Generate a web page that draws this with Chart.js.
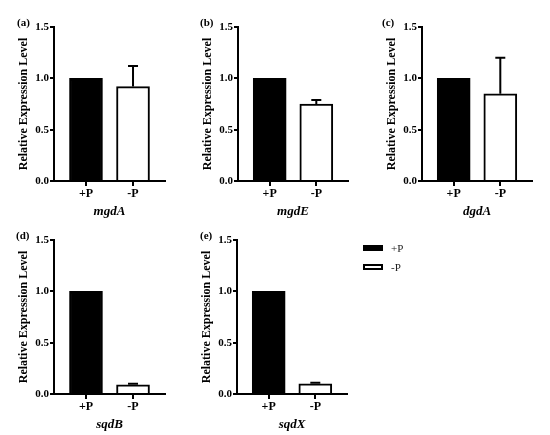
<!DOCTYPE html>
<html><head><meta charset="utf-8">
<script src="https://cdn.jsdelivr.net/npm/chart.js@4.4.1/dist/chart.umd.min.js"></script>
<style>
html,body{margin:0;padding:0;background:#fff;overflow:hidden;width:550px;height:435px;position:relative;}
canvas{position:absolute;}
.letter{position:absolute;font:bold 11px "Liberation Serif";color:#000;line-height:11px;}
.lgbox{position:absolute;width:20px;height:6px;box-sizing:border-box;border:2px solid #000;}
.lgtxt{position:absolute;font:11px "Liberation Serif";color:#222;line-height:11px;}
</style></head><body>
<script>
// ---- data ----
const conditions = ['+P', '-P'];
const genes = ['mgdA', 'mgdE', 'dgdA', 'sqdB', 'sqdX'];
const panelLetters = ['(a)', '(b)', '(c)', '(d)', '(e)'];
const plusP = [1.00, 1.00, 1.00, 1.00, 1.00];
const plusPErr = [0, 0, 0, 0, 0];
const minusP = [0.92, 0.75, 0.85, 0.09, 0.10];
const minusPErr = [0.20, 0.04, 0.35, 0.01, 0.01];
const yTicks = [0, 0.5, 1.0, 1.5];
const yTitle = 'Relative Expression Level';

// ---- layout (positions only) ----
const panelLayout = [
  {left: 0, top: 0, padRight: 15},
  {left: 184, top: 0, padRight: 16},
  {left: 368, top: 0, padRight: 16},
  {left: 0, top: 213, padRight: 15},
  {left: 183, top: 213, padRight: 16}
];
const letterPos = [[17, 17], [200, 17], [382, 17], [16, 230], [200, 230]];

const errorBars = {
  id: 'errorBars',
  afterDatasetsDraw(chart) {
    const ctx = chart.ctx, y = chart.scales.y;
    const ds = chart.data.datasets[0];
    const meta = chart.getDatasetMeta(0);
    ctx.save();
    ctx.strokeStyle = '#000';
    ctx.lineWidth = 2;
    meta.data.forEach((bar, i) => {
      const e = ds.errors[i];
      if (!e) return;
      const v = ds.data[i].y;
      const yTop = y.getPixelForValue(v + e);
      const yBase = y.getPixelForValue(v);
      ctx.beginPath();
      ctx.moveTo(bar.x, yBase);
      ctx.lineTo(bar.x, yTop);
      ctx.moveTo(bar.x - 5, yTop);
      ctx.lineTo(bar.x + 5, yTop);
      ctx.stroke();
    });
    ctx.restore();
  }
};

const serif = '"Liberation Serif", "Times New Roman", serif';

genes.forEach((gene, p) => {
  const L = panelLayout[p];
  const cv = document.createElement('canvas');
  cv.width = 180; cv.height = 225;
  cv.style.left = L.left + 'px'; cv.style.top = L.top + 'px';
  cv.style.width = '180px'; cv.style.height = '225px';
  document.body.appendChild(cv);

  const lt = document.createElement('div');
  lt.className = 'letter';
  lt.textContent = panelLetters[p];
  lt.style.left = letterPos[p][0] + 'px';
  lt.style.top = letterPos[p][1] + 'px';
  document.body.appendChild(lt);

  new Chart(cv, {
    type: 'bar',
    data: {
      datasets: [{
        data: [{x: 1, y: plusP[p]}, {x: 2, y: minusP[p]}],
        errors: [plusPErr[p], minusPErr[p]],
        backgroundColor: ['#000000', '#ffffff'],
        borderColor: '#000000',
        borderWidth: 2,
        borderSkipped: 'start',
        barThickness: 33
      }]
    },
    options: {
      responsive: false,
      animation: false,
      devicePixelRatio: 1,
      layout: {padding: {left: 0, right: L.padRight, top: 27, bottom: 0}},
      plugins: {legend: {display: false}, tooltip: {enabled: false}},
      scales: {
        x: {
          type: 'linear',
          offset: false,
          min: 0.32, max: 2.68,
          afterBuildTicks: s => { s.ticks = conditions.map((c, i) => ({value: i + 1})); },
          afterFit: s => { s.height = 44; },
          ticks: {
            callback: v => conditions[v - 1],
            color: '#000',
            padding: 1,
            maxRotation: 0,
            font: {family: serif, size: 12, weight: 'bold'}
          },
          grid: {offset: false, drawOnChartArea: false, drawTicks: true, tickLength: 5, color: '#000', lineWidth: 2},
          border: {display: true, color: '#000', width: 2},
          title: {
            display: true, text: gene, color: '#000',
            padding: {top: 0, bottom: 5.5},
            font: {family: serif, size: 13, weight: 'bold', style: 'italic'}
          }
        },
        y: {
          min: 0, max: 1.5,
          afterBuildTicks: s => { s.ticks = yTicks.map(v => ({value: v})); },
          afterFit: s => { s.width = 54; },
          ticks: {
            callback: v => v.toFixed(1),
            color: '#000',
            padding: 1,
            font: {family: serif, size: 11, weight: 'bold'}
          },
          grid: {drawOnChartArea: false, drawTicks: true, tickLength: 4, color: '#000', lineWidth: 2},
          border: {display: true, color: '#000', width: 2},
          title: {
            display: true, text: yTitle, color: '#000',
            padding: {top: 16.8, bottom: 0},
            font: {family: serif, size: 12, weight: 'bold'}
          }
        }
      }
    },
    plugins: [errorBars]
  });
});

// ---- legend ----
const legendFills = ['#000', '#fff'];
const legendTop = [245, 264];
conditions.forEach((c, i) => {
  const b = document.createElement('div');
  b.className = 'lgbox';
  b.style.left = '363px';
  b.style.top = legendTop[i] + 'px';
  b.style.background = legendFills[i];
  document.body.appendChild(b);
  const t = document.createElement('div');
  t.className = 'lgtxt';
  t.textContent = c;
  t.style.left = '391px';
  t.style.top = (legendTop[i] - 2) + 'px';
  document.body.appendChild(t);
});
</script>
</body></html>
